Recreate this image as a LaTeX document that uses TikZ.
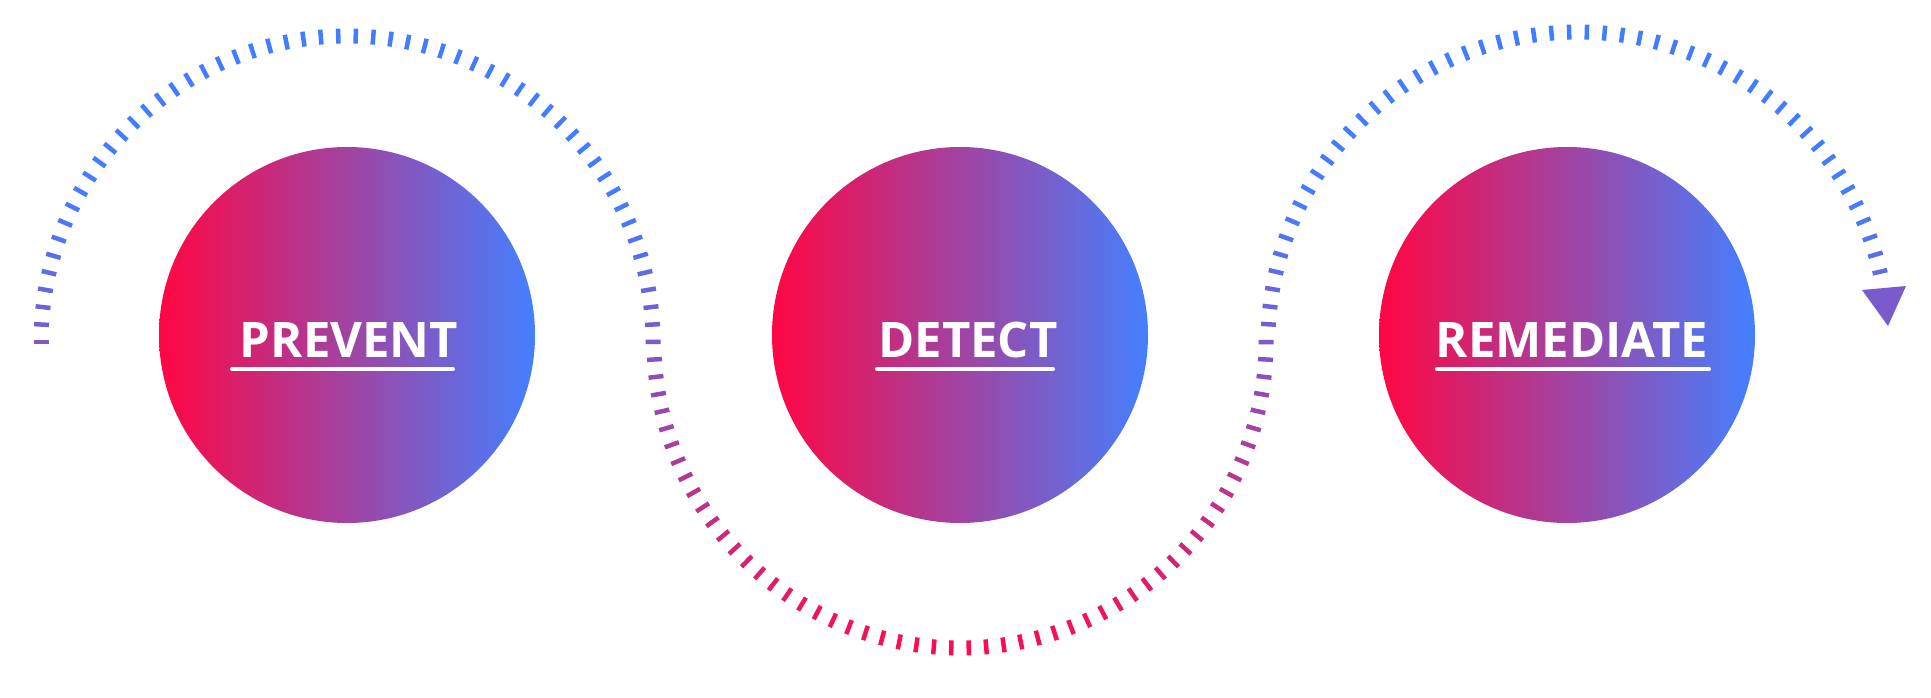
\documentclass[tikz,border=0pt]{standalone}
\usepackage{fontspec}
\setmainfont{Open Sans}
\definecolor{cred}{RGB}{255,6,68}
\definecolor{cmid}{RGB}{138,80,190}
\definecolor{cblue}{RGB}{68,128,255}
\definecolor{tred}{RGB}{255,10,80}
\definecolor{tblue}{RGB}{66,125,255}
\definecolor{arrowc}{RGB}{122,90,205}
\tikzset{
  bubble/.style={circle, inner sep=0pt, minimum size=376pt, left color=cred, middle color=cmid, right color=cblue, draw=none},
  lbl/.style={text=white, font=\fontsize{49}{60}\selectfont\bfseries, inner sep=0pt, anchor=base},
  uline/.style={draw=white, line width=4pt, line cap=round},
  tickmark/.style={line width=4.5pt, line cap=butt},
}
\newcommand{\tickat}[3]{% center x, radius, angle
  \pgfmathsetmacro\tpy{342+#2*sin(#3)}%
  \pgfmathtruncatemacro\tt{max(0,min(100,(\tpy-200)/4.5))}%
  \colorlet{tc}{tred!\tt!tblue}%
  \draw[tickmark, tc] ({#1+(#2-7.5)*cos(#3)},{342+(#2-7.5)*sin(#3)}) -- ({#1+(#2+7.5)*cos(#3)},{342+(#2+7.5)*sin(#3)});%
}
\begin{document}
\begin{tikzpicture}[x=1pt,y=-1pt]
\useasboundingbox (0,0) rectangle (1931,698);
% dashed S-shaped path
\foreach \i in {0,...,55}{\pgfmathsetmacro\ang{180+\i*3.2727}\tickat{347}{306}{\ang}}
\foreach \i in {1,...,55}{\pgfmathsetmacro\ang{180-\i*3.2727}\tickat{960}{306}{\ang}}
\foreach \i in {1,...,51}{\pgfmathsetmacro\ang{180+\i*3.2727}\tickat{1578}{310}{\ang}}
% arrow head
\coordinate (a1) at (1862,290);
\coordinate (a2) at (1906,286);
\coordinate (a3) at (1888,326);
\fill[arrowc] (a1) -- (a2) -- (a3) -- cycle;
% circles
\node[bubble] (c1) at (347,335) {};
\node[bubble] (c2) at (960,335) {};
\node[bubble] (c3) at (1567,335) {};
% labels
\node[lbl] (t1) at (349,357) {PREVENT};
\node[lbl] (t2) at (968,357) {DETECT};
\node[lbl] (t3) at (1572,357) {REMEDIATE};
\draw[uline] (232,369) -- (453,369);
\draw[uline] (877,369) -- (1053,369);
\draw[uline] (1437,369) -- (1709,369);
\end{tikzpicture}
\end{document}
